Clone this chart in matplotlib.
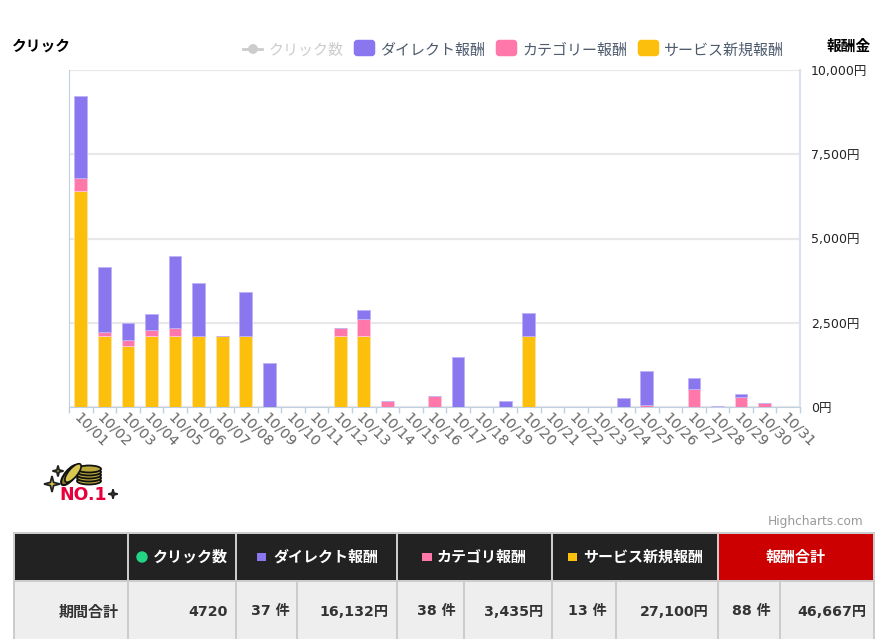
import matplotlib
matplotlib.use('Agg')
import matplotlib.pyplot as plt
from matplotlib.patches import Rectangle, FancyBboxPatch, Ellipse, Polygon, Circle
from matplotlib.ticker import FuncFormatter

plt.rcParams['font.family'] = ['Noto Sans CJK JP', 'DejaVu Sans']

# chart data
days = ['10/%02d' % d for d in range(1, 32)]
service = [6400, 2100, 1800, 2100, 2100, 2100, 2100, 2100, 0, 0, 0, 2100, 2100, 0, 0, 0,
           0, 0, 0, 2100, 0, 0, 0, 0, 0, 0, 0, 0, 0, 0, 0]
category = [410, 120, 190, 190, 240, 0, 0, 0, 0, 0, 0, 250, 510, 180, 0, 330,
            0, 0, 0, 0, 0, 0, 0, 0, 50, 0, 520, 40, 290, 110, 0]
direct = [2410, 1930, 490, 475, 2150, 1570, 0, 1310, 1300, 0, 0, 0, 260, 0, 0, 0,
          1480, 0, 180, 700, 0, 0, 0, 260, 1030, 0, 340, 0, 110, 0, 0]
y_ticks = [0, 2500, 5000, 7500, 10000]

# summary table
legend_names = ['ダイレクト報酬', 'カテゴリー報酬', 'サービス新規報酬']
row_label = '期間合計'
clicks_total = '4720'
counts = ['37 件', '38 件', '13 件', '88 件']
amounts = ['16,132円', '3,435円', '27,100円', '46,667円']

PURPLE = '#8a76ee'
PINK = '#ff78a9'
YELLOW = '#fbbf0c'
W, H = 889, 639
NUM_FONT = ['DejaVu Sans', 'Noto Sans CJK JP']

fig = plt.figure(figsize=(W / 100, H / 100), dpi=100)
ax = fig.add_axes([69 / W, 1 - 407 / H, 731 / W, 337 / H])

# stacked bars
xs = list(range(len(days)))
cat_bottom = service
dir_bottom = [s + c for s, c in zip(service, category)]
bw = 0.54
ax.bar(xs, service, bw, color=YELLOW, edgecolor='#fde3a0', linewidth=0.6, zorder=3)
ax.bar(xs, category, bw, bottom=cat_bottom, color=PINK, edgecolor='#ffc8dc', linewidth=0.6, zorder=3)
ax.bar(xs, direct, bw, bottom=dir_bottom, color=PURPLE, edgecolor='#bdb2f5', linewidth=0.6, zorder=3)

ax.set_xlim(-0.5, 30.5)
ax.set_ylim(0, 10000)
ax.yaxis.tick_right()
ax.set_yticks(y_ticks)
ax.yaxis.set_major_formatter(FuncFormatter(lambda v, p: '{:,.0f}円'.format(v)))
ax.tick_params(axis='y', length=0, pad=8, labelsize=9)
for lab in ax.get_yticklabels():
    lab.set_family(NUM_FONT)
    lab.set_color('#222222')
ax.grid(axis='y', color='#e8e8ea', linewidth=1.6, zorder=0)

ax.set_xticks(xs)
ax.set_xticklabels(days, rotation=-45, ha='left', va='top', rotation_mode='anchor',
                   fontsize=10.4, color='#666666', family=NUM_FONT)
ax.tick_params(axis='x', which='major', length=0, pad=2)
ax.set_xticks([x - 0.5 for x in xs] + [30.5], minor=True)
ax.tick_params(axis='x', which='minor', length=4, width=1, color='#c0d0e0')

ax.spines['top'].set_visible(False)
ax.spines['left'].set_color('#c0d0e0')
ax.spines['bottom'].set_color('#c0d0e0')
ax.spines['right'].set_color('#dbe4ee')
ax.spines['right'].set_linewidth(1.6)

# overlay in pixel coordinates for legend, icon, table
ov = fig.add_axes([0, 0, 1, 1], zorder=5)
ov.set_xlim(0, W)
ov.set_ylim(H, 0)
ov.axis('off')

ov.text(12, 46, 'クリック', fontsize=10.6, fontweight='bold', color='black', va='center')
ov.text(871, 46, '報酬金', fontsize=10.6, fontweight='bold', color='black', va='center', ha='right')

# legend
ov.plot([243, 262], [49, 49], color='#cccccc', linewidth=2)
ov.add_patch(Circle((253, 49), 4.2, color='#cccccc'))
ov.text(269, 50.5, 'クリック数', fontsize=10.8, color='#cccccc', va='center')
for name, col, x0, tx in zip(legend_names, [PURPLE, PINK, YELLOW], [354, 496, 638], [380, 522, 664]):
    ov.add_patch(FancyBboxPatch((x0 + 1.5, 41.5), 18, 13, boxstyle='round,pad=0,rounding_size=2',
                                facecolor=col, edgecolor=col, linewidth=2.5))
    ov.text(tx, 50.5, name, fontsize=10.8, color='#4d5a6c', va='center')

ov.text(863, 521, 'Highcharts.com', fontsize=8.7, color='#999999', ha='right', va='center',
        family=NUM_FONT)


# coin icon
def sparkle(cx, cy, r):
    k = r * 0.2
    pts = [(cx, cy - r), (cx + k, cy - k), (cx + r, cy), (cx + k, cy + k),
           (cx, cy + r), (cx - k, cy + k), (cx - r, cy), (cx - k, cy - k)]
    ov.add_patch(Polygon(pts, facecolor='#d8cc50', edgecolor='#222222', linewidth=1.3))


sparkle(52, 484, 8)
sparkle(58, 471, 5.5)
sparkle(113, 494, 4.5)
for cy in [481, 478, 475, 472, 469]:
    ov.add_patch(Ellipse((89, cy), 24, 7, facecolor='#b8a838', edgecolor='#111111', linewidth=1.3))
ov.add_patch(Ellipse((70, 475), 10, 25, angle=40, facecolor='#8a7c24', edgecolor='#111111', linewidth=1.5))
ov.add_patch(Ellipse((73, 473), 9, 23, angle=40, facecolor='#d8c850', edgecolor='#111111', linewidth=1.2))
ov.text(83.5, 495, 'NO.1', fontsize=12.5, fontweight='bold', color='#e8003c', ha='center', va='center',
        family=NUM_FONT)

# table background and cells
BORDER = '#cccccc'
head_cols = [(15, 126.5), (128.5, 235), (236.5, 395.5), (397.5, 550.5), (552.5, 716.5)]
ov.add_patch(Rectangle((13, 532), 862, 108, facecolor=BORDER, edgecolor='none'))
for x0, x1 in head_cols:
    ov.add_patch(Rectangle((x0, 534), x1 - x0, 46, facecolor='#222222', edgecolor='none'))
ov.add_patch(Rectangle((718.5, 534), 154.5, 46, facecolor='#cc0000', edgecolor='none'))
data_cols = [(15, 126.5), (128.5, 235), (236.5, 296), (298, 395.5), (397.5, 462.5), (464.5, 550.5),
             (552.5, 615), (617, 716.5), (718.5, 778.5), (780.5, 873)]
for x0, x1 in data_cols:
    ov.add_patch(Rectangle((x0, 582), x1 - x0, 60, facecolor='#eeeeee', edgecolor='none'))

HEAD_Y = 556.5
ov.add_patch(Circle((142, 557), 5, color='#22d484'))
ov.text(153, HEAD_Y, 'クリック数', fontsize=10.8, fontweight='bold', color='white', va='center')
ov.add_patch(Rectangle((256.5, 553), 9.5, 8, facecolor=PURPLE))
ov.text(273, HEAD_Y, 'ダイレクト報酬', fontsize=10.8, fontweight='bold', color='white', va='center')
ov.add_patch(Rectangle((422, 553), 9.5, 8, facecolor=PINK))
ov.text(437, HEAD_Y, 'カテゴリ報酬', fontsize=10.8, fontweight='bold', color='white', va='center')
ov.add_patch(Rectangle((567.5, 553), 9.5, 8, facecolor=YELLOW))
ov.text(583, HEAD_Y, 'サービス新規報酬', fontsize=10.8, fontweight='bold', color='white', va='center')
ov.text(795.5, HEAD_Y, '報酬合計', fontsize=10.8, fontweight='bold', color='white', va='center', ha='center')

ROW_Y = 611.5
ov.text(119, ROW_Y, row_label, fontsize=10.8, fontweight='bold', color='#333333', ha='right', va='center')
ov.text(228, ROW_Y, clicks_total, fontsize=10.2, fontweight='bold', color='#333333', ha='right', va='center',
        family=NUM_FONT)
for txt, rx in zip(counts, [290, 456, 607, 771]):
    ov.text(rx, ROW_Y, txt, fontsize=10.2, fontweight='bold', color='#333333', ha='right', va='center',
            family=NUM_FONT)
for txt, rx in zip(amounts, [388, 543, 709, 866]):
    ov.text(rx, ROW_Y, txt, fontsize=10.2, fontweight='bold', color='#333333', ha='right', va='center',
            family=NUM_FONT)

fig.savefig('out.png', dpi=100)
